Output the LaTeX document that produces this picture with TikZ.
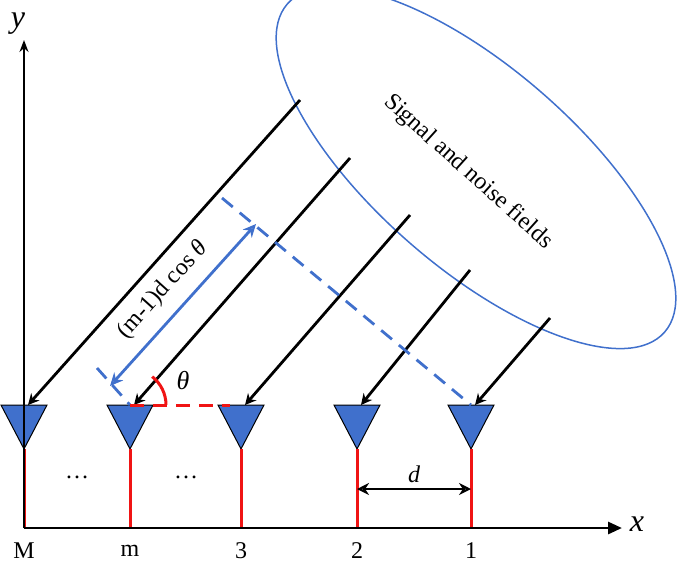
\documentclass[tikz,border=0pt]{standalone}
\usepackage{fontspec}
\setmainfont{Liberation Serif}
\usetikzlibrary{arrows.meta}
\definecolor{ablue}{RGB}{64,112,204}
\definecolor{ared}{RGB}{240,20,20}
\tikzset{
  ray/.style={black,line width=2.8pt,-{Stealth[length=11pt,width=11pt]}},
  feed/.style={ared,line width=3pt},
  wave/.style={ablue,line width=2.8pt,dash pattern=on 14pt off 9pt},
  ant/.style={fill=ablue,draw=black,line width=1pt},
  lbl/.style={font=\fontsize{24}{26}\selectfont}
}
\begin{document}
\begin{tikzpicture}[x=1pt,y=-1pt]
\useasboundingbox (0,0) rectangle (685,565);
% antennas
\foreach \n/\x in {M/24,m/130,t/241,b/357,a/471}{
  \coordinate (\n) at (\x,405);
  \coordinate (\n f) at (\x,449);
  \coordinate (\n g) at (\x,528);
  \draw[ant] (\x-23,405) -- (\x+23,405) -- (\n f) -- cycle;
  \draw[feed] (\n f) -- (\n g);
}
% axes
\coordinate (O) at (24,528);
\coordinate (X) at (622,528);
\coordinate (Y) at (24,40);
\draw[line width=2.8pt,-{Triangle[length=14pt,width=12pt]}] (O) -- (X);
\draw[line width=1.6pt,-{Stealth[length=12pt,width=9pt]}] (O) -- (Y);
\node[lbl,font=\fontsize{32}{34}\selectfont\itshape] (xl) at (637,524) {x};
\node[lbl,font=\fontsize{32}{34}\selectfont\itshape] (yl) at (18,24) {y};
\foreach \n/\lab in {M/M,m/m,t/3,b/2,a/1}{\node[lbl] (\n l) at ([yshift=-23]\n g) {\lab};}
% ellipse
\draw[ablue,line width=1.5pt,rotate around={-41:(476,168)}] (476,168) ellipse (250 and 100);
\node[lbl,rotate=-42] (sig) at (468,172) {Signal and noise fields};
% rays
\coordinate (sM) at (300,100);
\coordinate (sm) at (350,158);
\coordinate (st) at (410,215);
\coordinate (sb) at (470,270);
\coordinate (sa) at (550,318);
\draw[ray] (sM) -- ([xshift=4]M);
\draw[ray] (sm) -- ([xshift=4]m);
\draw[ray] (st) -- ([xshift=4]t);
\draw[ray] (sb) -- ([xshift=4]b);
\draw[ray] (sa) -- ([xshift=4]a);
% wavefronts
\coordinate (w1) at (222,198);
\coordinate (w2) at (97,368);
\draw[wave] (w1) -- (a);
\draw[wave] (w2) -- (m);
% path difference arrow
\coordinate (p1) at (110,386);
\coordinate (p2) at (256,224);
\draw[ablue,line width=2.8pt,{Stealth[length=13pt,width=12pt,open]}-{Stealth[length=13pt,width=12pt,open]}] (p1) -- (p2);
\node[lbl,rotate=48] (pd) at (163,290) {(m-1)d cos \textit{θ}};
% angle
\coordinate (r) at (230,405);
\draw[ared,line width=3pt,dash pattern=on 14pt off 9pt] (m) -- (r);
\draw[ared,line width=3pt] ([xshift=36]m) arc (0:-52:36);
\node[lbl,font=\fontsize{26}{28}\selectfont\itshape] (th) at (183,381) {θ};
% dots
\node[lbl] (d1) at (77,477) {\dots};
\node[lbl] (d2) at (186,477) {\dots};
% d
\draw[line width=2.8pt,{Stealth[length=12pt,width=12pt,open]}-{Stealth[length=12pt,width=12pt,open]}] ([yshift=39]bg) -- ([yshift=39]ag);
\node[lbl,font=\fontsize{24}{26}\selectfont\itshape] (dl) at (414,474) {d};
\end{tikzpicture}
\end{document}
